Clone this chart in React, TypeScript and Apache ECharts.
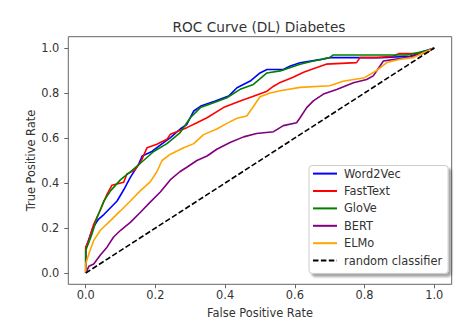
import React, { useEffect, useRef } from "react";
import * as echarts from "echarts";

const seriesNames = ["Word2Vec", "FastText", "GloVe", "BERT", "ELMo", "random classifier"];
const seriesColors = ["#0000ff", "#ff0000", "#008000", "#800080", "#ffa500", "#000000"];
const tickValues = [0, 0.2, 0.4, 0.6, 0.8, 1.0];

const w2vFpr = [0, 0, 0.009, 0.02, 0.037, 0.052, 0.071, 0.09, 0.109, 0.128, 0.152, 0.162, 0.19, 0.204, 0.243, 0.271, 0.29, 0.3, 0.31, 0.33, 0.372, 0.41, 0.434, 0.472, 0.5, 0.52, 0.567, 0.587, 0.615, 0.672, 0.7, 0.85, 0.93, 0.97, 1];
const w2vTpr = [0, 0.11, 0.15, 0.2, 0.24, 0.26, 0.29, 0.32, 0.37, 0.425, 0.484, 0.52, 0.54, 0.557, 0.602, 0.64, 0.66, 0.69, 0.72, 0.742, 0.764, 0.786, 0.823, 0.853, 0.889, 0.904, 0.904, 0.92, 0.934, 0.948, 0.957, 0.957, 0.963, 0.985, 1];

const ftFpr = [0, 0, 0.009, 0.023, 0.042, 0.061, 0.075, 0.109, 0.118, 0.138, 0.157, 0.176, 0.204, 0.233, 0.243, 0.29, 0.319, 0.348, 0.395, 0.443, 0.481, 0.52, 0.539, 0.558, 0.595, 0.625, 0.663, 0.69, 0.777, 0.787, 0.835, 0.88, 0.9, 0.96, 1];
const ftTpr = [0, 0.115, 0.145, 0.218, 0.28, 0.35, 0.39, 0.403, 0.44, 0.455, 0.49, 0.557, 0.572, 0.594, 0.617, 0.646, 0.668, 0.69, 0.735, 0.764, 0.785, 0.808, 0.83, 0.847, 0.87, 0.892, 0.913, 0.928, 0.935, 0.957, 0.957, 0.963, 0.975, 0.975, 1];

const gloveFpr = [0, 0, 0.018, 0.033, 0.052, 0.071, 0.1, 0.128, 0.166, 0.195, 0.233, 0.271, 0.3, 0.329, 0.367, 0.405, 0.443, 0.481, 0.52, 0.558, 0.615, 0.653, 0.7, 0.71, 0.92, 0.978, 1];
const gloveTpr = [0, 0.1, 0.174, 0.248, 0.32, 0.365, 0.415, 0.45, 0.5, 0.54, 0.575, 0.624, 0.69, 0.735, 0.757, 0.779, 0.816, 0.838, 0.889, 0.898, 0.928, 0.942, 0.957, 0.969, 0.969, 0.987, 1];

const bertFpr = [0, 0.009, 0.023, 0.042, 0.061, 0.08, 0.1, 0.128, 0.157, 0.185, 0.214, 0.243, 0.27, 0.29, 0.319, 0.348, 0.376, 0.414, 0.453, 0.49, 0.539, 0.567, 0.605, 0.615, 0.634, 0.653, 0.682, 0.72, 0.768, 0.806, 0.825, 0.84, 0.854, 0.92, 0.978, 1];
const bertTpr = [0, 0.03, 0.04, 0.08, 0.115, 0.16, 0.19, 0.225, 0.27, 0.315, 0.36, 0.415, 0.45, 0.47, 0.5, 0.52, 0.55, 0.58, 0.605, 0.62, 0.628, 0.655, 0.668, 0.69, 0.735, 0.765, 0.795, 0.815, 0.845, 0.86, 0.876, 0.91, 0.942, 0.957, 0.98, 1];

const elmoFpr = [0, 0, 0.009, 0.023, 0.042, 0.071, 0.1, 0.128, 0.157, 0.185, 0.204, 0.219, 0.243, 0.281, 0.31, 0.338, 0.376, 0.405, 0.434, 0.462, 0.481, 0.5, 0.529, 0.558, 0.615, 0.7, 0.738, 0.8, 0.835, 0.864, 0.902, 0.94, 0.968, 1];
const elmoTpr = [0, 0.04, 0.086, 0.145, 0.19, 0.233, 0.277, 0.32, 0.366, 0.405, 0.45, 0.5, 0.528, 0.557, 0.575, 0.615, 0.64, 0.665, 0.688, 0.698, 0.74, 0.783, 0.8, 0.81, 0.825, 0.832, 0.852, 0.868, 0.9, 0.935, 0.95, 0.957, 0.978, 1];

const randomFpr = [0, 1];
const randomTpr = [0, 1];

const allFpr = [w2vFpr, ftFpr, gloveFpr, bertFpr, elmoFpr, randomFpr];
const allTpr = [w2vTpr, ftTpr, gloveTpr, bertTpr, elmoTpr, randomTpr];

const FONT = "DejaVu Sans";
const TEXT = "#333";
const FRAME = "#666";

export default function App() {
  const ref = useRef<HTMLDivElement>(null);
  useEffect(() => {
    if (!ref.current) return;
    const chart = echarts.init(ref.current, undefined, { renderer: "svg" });
    const series = seriesNames.map((name, i) => ({
      name,
      type: "line",
      data: allFpr[i].map((x, j) => [x, allTpr[i][j]]),
      symbol: "none",
      showSymbol: false,
      lineStyle: {
        color: seriesColors[i],
        width: 1.6,
        type: i === 5 ? [5.5, 2.4] : "solid",
      },
      itemStyle: { color: seriesColors[i] },
      emphasis: { disabled: true },
    }));
    const axisCommon = {
      type: "value",
      min: -0.05,
      max: 1.05,
      splitLine: { show: false },
      axisLine: { show: false, onZero: false },
      axisTick: {
        show: true,
        customValues: tickValues,
        length: 4,
        inside: false,
        lineStyle: { color: FRAME, width: 1 },
      },
      axisLabel: {
        customValues: tickValues,
        formatter: (v: number) => v.toFixed(1),
        color: TEXT,
        fontSize: 11.4,
        fontFamily: FONT,
      },
      nameLocation: "middle",
      nameMoveOverlap: false,
      nameTextStyle: { color: TEXT, fontSize: 11.4, fontFamily: FONT },
    };
    chart.setOption({
      animation: false,
      textStyle: { fontFamily: FONT },
      title: {
        text: "ROC Curve (DL) Diabetes",
        left: 259,
        top: 20,
        padding: 0,
        textAlign: "center",
        textStyle: { color: TEXT, fontSize: 13.7, fontWeight: "normal", fontFamily: FONT },
      },
      grid: {
        left: 68.3,
        right: 22.3,
        top: 36.7,
        bottom: 42.7,
        show: true,
        borderColor: FRAME,
        borderWidth: 1,
        backgroundColor: "#fff",
      },
      xAxis: {
        ...axisCommon,
        name: "False Positive Rate",
        nameGap: 23.5,
        axisLabel: { ...axisCommon.axisLabel, margin: 5 },
      },
      yAxis: {
        ...axisCommon,
        name: "True Positive Rate",
        nameGap: 32,
        axisLabel: { ...axisCommon.axisLabel, margin: 9 },
      },
      legend: {
        data: seriesNames,
        orient: "vertical",
        left: 309,
        top: 165.5,
        itemWidth: 24,
        itemHeight: 14,
        itemGap: 6.2,
        padding: [2.5, 6, 7.2, 3],
        backgroundColor: "#fff",
        borderColor: "#ccc",
        borderWidth: 1,
        borderRadius: 3,
        shadowColor: "rgba(0,0,0,0.35)",
        shadowOffsetX: 3,
        shadowOffsetY: 3,
        shadowBlur: 2,
        selectedMode: false,
        itemStyle: { opacity: 0 },
        textStyle: { color: TEXT, fontSize: 11.4, fontFamily: FONT, padding: [0, 0, 0, 2] },
      },
      series,
    });
    return () => chart.dispose();
  }, []);
  return (
    <div
      ref={ref}
      style={{ position: "absolute", left: 0, top: 0, width: 474, height: 327, background: "#fff" }}
    />
  );
}
